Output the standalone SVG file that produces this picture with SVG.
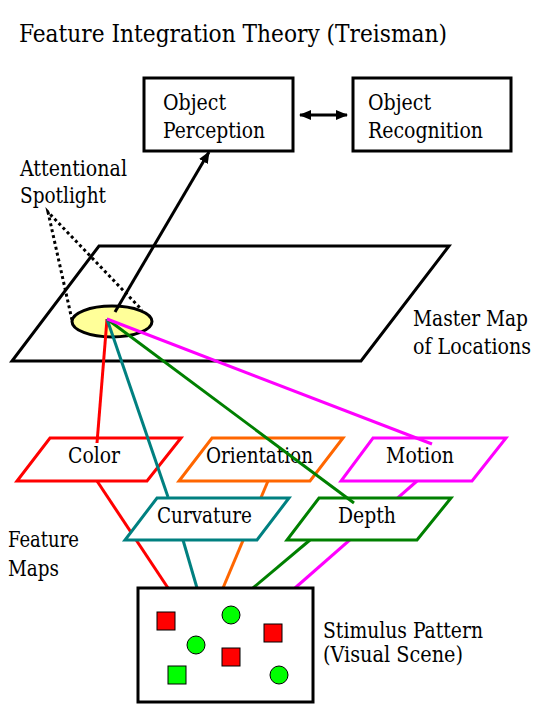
<svg xmlns="http://www.w3.org/2000/svg" width="540" height="720" viewBox="0 0 540 720">
<style>
text{font-family:'DejaVu Serif Condensed','DejaVu Serif','Liberation Serif',serif;font-size:22px;fill:#000}
.box{fill:#fff;stroke:#000;stroke-width:3}
.fm{fill:#fff;stroke-width:3}
.ln{fill:none;stroke-width:3}
.dot{fill:none;stroke:#000;stroke-width:3;stroke-dasharray:3 3}
.sq{stroke:#000;stroke-width:1}
</style>
<defs>
<marker id="ah" viewBox="0 0 12 10" refX="11" refY="5" markerWidth="12" markerHeight="10" markerUnits="userSpaceOnUse" orient="auto-start-reverse">
<path d="M0,0 L12,5 L0,10 Z" fill="#000"/>
</marker>
</defs>
<rect width="540" height="720" fill="#fff"/>
<text x="19" y="42" style="font-size:24px" textLength="428" lengthAdjust="spacingAndGlyphs">Feature Integration Theory (Treisman)</text>

<g id="feature-to-stimulus" class="connectors">
<line class="ln" stroke="#ff0000" x1="97" y1="481" x2="168" y2="588"/>
<line class="ln" stroke="#ff6600" x1="268" y1="481" x2="223" y2="588"/>
<line class="ln" stroke="#008080" x1="183" y1="540" x2="197" y2="588"/>
<line class="ln" stroke="#008000" x1="310" y1="540" x2="253" y2="588"/>
<line class="ln" stroke="#ff00ff" x1="417" y1="481" x2="295" y2="588"/>
</g>

<g id="object-perception">
<rect class="box" x="144" y="78" width="149" height="73"/>
<text x="163" y="110" textLength="63" lengthAdjust="spacingAndGlyphs">Object</text>
<text x="163" y="138" textLength="102" lengthAdjust="spacingAndGlyphs">Perception</text>
</g>
<g id="object-recognition">
<rect class="box" x="353" y="78" width="158" height="73"/>
<text x="368" y="110" textLength="63" lengthAdjust="spacingAndGlyphs">Object</text>
<text x="368" y="138" textLength="115" lengthAdjust="spacingAndGlyphs">Recognition</text>
</g>

<g id="master-map">
<polygon points="99,246 449,246 361,361 12,361" fill="#fff" stroke="#000" stroke-width="3"/>
<text x="413" y="326" textLength="115" lengthAdjust="spacingAndGlyphs">Master Map</text>
<text x="413" y="354" textLength="118" lengthAdjust="spacingAndGlyphs">of Locations</text>
</g>

<g id="attentional-spotlight">
<text x="20" y="176" textLength="107" lengthAdjust="spacingAndGlyphs">Attentional</text>
<text x="20" y="203" textLength="86" lengthAdjust="spacingAndGlyphs">Spotlight</text>
<polyline class="dot" points="72,320 48,212 142,310"/>
<ellipse cx="112" cy="321.5" rx="40" ry="15.5" fill="#ffff99" stroke="#000" stroke-width="3"/>
</g>

<g id="color-map">
<polygon class="fm" stroke="#ff0000" points="50,438 181,438 147,481 17,481"/>
<text x="68" y="463" textLength="52" lengthAdjust="spacingAndGlyphs">Color</text>
</g>
<g id="orientation-map">
<polygon class="fm" stroke="#ff6600" points="212,438 343,438 310,481 179,481"/>
<text x="206" y="463" textLength="107" lengthAdjust="spacingAndGlyphs">Orientation</text>
</g>
<g id="motion-map">
<polygon class="fm" stroke="#ff00ff" points="373,438 506,438 472,481 341,481"/>
<text x="386" y="463" textLength="68" lengthAdjust="spacingAndGlyphs">Motion</text>
</g>
<g id="curvature-map">
<polygon class="fm" stroke="#008080" points="157,498 289,498 257,540 125,540"/>
<text x="157" y="523" textLength="95" lengthAdjust="spacingAndGlyphs">Curvature</text>
</g>
<g id="depth-map">
<polygon class="fm" stroke="#008000" points="319,498 451,498 417,540 287,540"/>
<text x="338" y="523" textLength="58" lengthAdjust="spacingAndGlyphs">Depth</text>
</g>
<text x="8" y="547" textLength="71" lengthAdjust="spacingAndGlyphs">Feature</text>
<text x="8" y="576" textLength="51" lengthAdjust="spacingAndGlyphs">Maps</text>

<g id="stimulus">
<rect x="138" y="588" width="175" height="114" fill="#fff" stroke="#000" stroke-width="3"/>
<rect class="sq" x="157" y="612" width="18" height="18" fill="#ff0000"/>
<rect class="sq" x="264" y="624" width="18" height="18" fill="#ff0000"/>
<rect class="sq" x="222" y="648" width="18" height="18" fill="#ff0000"/>
<rect class="sq" x="168" y="666" width="18" height="18" fill="#00ff00"/>
<circle class="sq" cx="231" cy="615" r="9" fill="#00ff00"/>
<circle class="sq" cx="196" cy="645" r="9" fill="#00ff00"/>
<circle class="sq" cx="279" cy="675" r="9" fill="#00ff00"/>
<text x="323" y="638" textLength="160" lengthAdjust="spacingAndGlyphs">Stimulus Pattern</text>
<text x="323" y="662" textLength="140" lengthAdjust="spacingAndGlyphs">(Visual Scene)</text>
</g>

<g id="connectors">
<line class="ln" stroke="#000" x1="115" y1="312" x2="209" y2="152" marker-end="url(#ah)"/>
<line class="ln" stroke="#000" x1="300" y1="115" x2="347" y2="115" marker-start="url(#ah)" marker-end="url(#ah)"/>
<line class="ln" stroke="#ff0000" x1="107" y1="319" x2="97" y2="443"/>
<line class="ln" stroke="#008080" x1="107" y1="319" x2="168" y2="497"/>
<line class="ln" stroke="#008000" x1="107" y1="319" x2="354" y2="503"/>
<line class="ln" stroke="#ff00ff" x1="107" y1="319" x2="432" y2="444"/>
</g>
</svg>
